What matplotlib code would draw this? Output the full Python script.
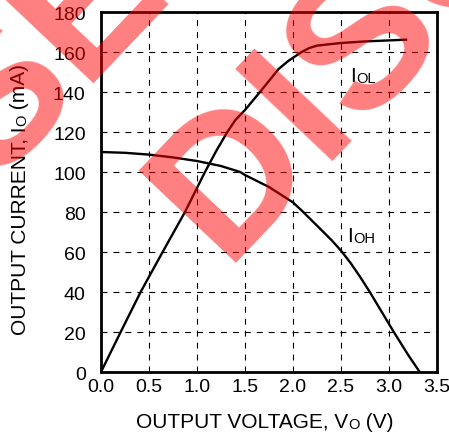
import matplotlib
matplotlib.use("Agg")
import matplotlib.pyplot as plt

plt.rcParams['font.family'] = ['Liberation Sans', 'DejaVu Sans']
plt.rcParams['lines.scale_dashes'] = False

# sink current I_OL vs output voltage
v_ol = [0.0, 0.205, 0.413, 0.642, 0.875, 1.083, 1.2, 1.316, 1.4, 1.5, 1.656, 1.85, 1.95, 2.09, 2.17, 2.25, 2.5, 2.75, 3.0, 3.19]
i_ol = [0, 20, 40, 60, 80, 100, 110.5, 120, 126, 131, 140, 151.5, 155.5, 160, 162, 163.2, 164.5, 165.3, 165.8, 166.2]

# source current I_OH vs output voltage
v_oh = [0.0, 0.25, 0.5, 0.75, 1.0, 1.25, 1.45, 1.5, 1.75, 2.0, 2.1, 2.3, 2.4, 2.5, 2.6, 2.7, 2.8, 2.9, 3.05, 3.2, 3.32]
i_oh = [110, 109.6, 108.7, 107.3, 105.5, 103, 100, 98.5, 92.5, 84.8, 80.3, 70.8, 66, 60.7, 54.5, 47.5, 40, 32, 20, 8.5, 0]

xticks = [0.0, 0.5, 1.0, 1.5, 2.0, 2.5, 3.0, 3.5]
yticks = [0, 20, 40, 60, 80, 100, 120, 140, 160, 180]

BIG = 15
SMALL = 10.5

fig = plt.figure(figsize=(4.49, 4.35), dpi=100)
ax = fig.add_axes([0.2249, 0.1425, 0.7484, 0.8276])

ax.plot(v_ol, i_ol, color='black', lw=1.7, solid_capstyle='butt')
ax.plot(v_oh, i_oh, color='black', lw=1.7, solid_capstyle='butt')

ax.set_xlim(0, 3.5)
ax.set_ylim(0, 180)
ax.set_xticks(xticks)
ax.set_xticklabels(['%.1f' % v for v in xticks])
ax.set_yticks(yticks)
ax.tick_params(axis='both', length=0, labelsize=14)
ax.tick_params(axis='y', pad=11)
ax.tick_params(axis='x', pad=4)
ax.grid(True, color='black', linestyle=(0, (4.3, 4.3)), linewidth=0.8)
for s in ax.spines.values():
    s.set_linewidth(2)


def sub_label(t1, small, tail=None, rot=0):
    # small letters sitting on the baseline after the main text
    if rot == 0:
        t2 = ax.annotate(small, xy=(1, 0), xycoords=t1, ha='left', va='bottom',
                         fontsize=SMALL, annotation_clip=False)
        if tail:
            ax.annotate(tail, xy=(1, 0), xycoords=(t2, t1), ha='left', va='bottom',
                        fontsize=BIG, annotation_clip=False)
    else:
        t2 = ax.annotate(small, xy=(1, 1), xycoords=t1, ha='right', va='bottom',
                         rotation=90, fontsize=SMALL, annotation_clip=False)
        if tail:
            ax.annotate(tail, xy=(1, 1), xycoords=(t1, t2), ha='right', va='bottom',
                        rotation=90, fontsize=BIG, annotation_clip=False)


# curve labels
t = ax.text(2.594, 145.5, 'I', fontsize=BIG, va='baseline')
sub_label(t, 'OL')
t = ax.text(2.563, 65.5, 'I', fontsize=BIG, va='baseline')
sub_label(t, 'OH')

# axis titles
t = fig.text(136 / 449, 1 - 428 / 435, 'OUTPUT VOLTAGE, V', fontsize=BIG,
             ha='left', va='baseline')
sub_label(t, 'O', ' (V)')
t = fig.text(29.4 / 449, 1 - 335 / 435, 'OUTPUT CURRENT, I', fontsize=BIG,
             rotation=90, ha='right', va='bottom')
sub_label(t, 'O', ' (mA)', rot=90)

# watermark
wm = dict(rotation=46.5, rotation_mode='anchor', ha='left', va='baseline',
          fontsize=140, fontweight='bold', color='red', alpha=0.5, zorder=10)
fig.text(224 / 449, 1 - 263 / 435, 'DISCONTINUED', **wm)
fig.text(-104 / 449, 1 - 280 / 435, 'USE', **wm)

fig.savefig('out.png', dpi=100)
